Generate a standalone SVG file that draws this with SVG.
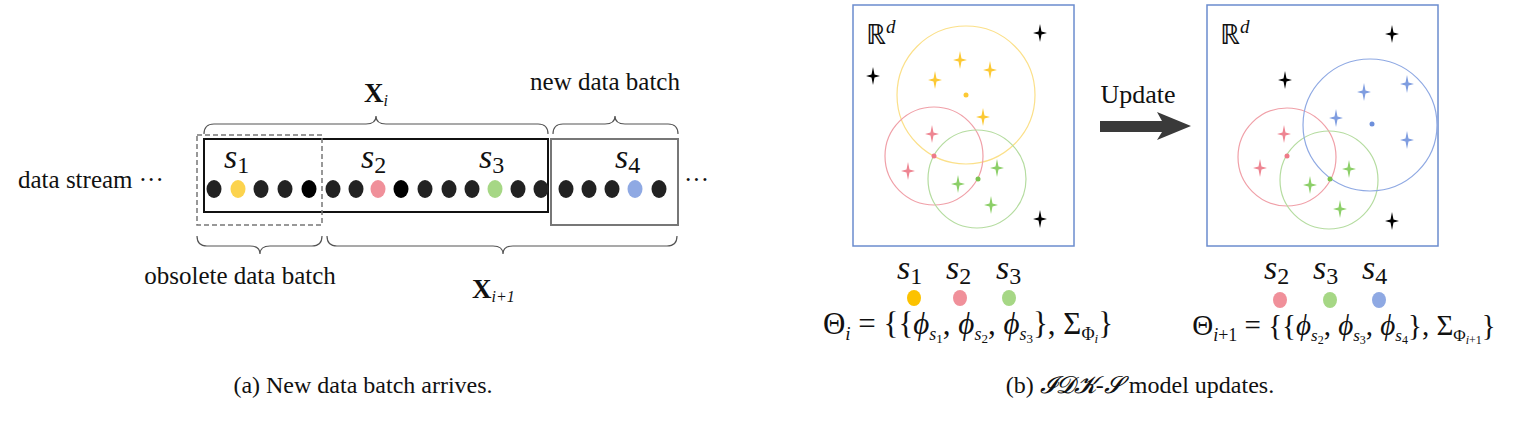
<svg xmlns="http://www.w3.org/2000/svg" width="1532" height="425" viewBox="0 0 1532 425">
<style>
.t{font-family:"Liberation Serif",serif;fill:#111}
.m{font-family:"Liberation Serif",serif;font-style:italic;fill:#111}
.b{fill:#222}
.br{fill:none;stroke:#555;stroke-width:1.2}
</style>
<defs>
<path id="st" d="M0,-9 L1.5,-1.5 L7,0 L1.5,1.5 L0,9 L-1.5,1.5 L-7,0 L-1.5,-1.5Z"/>
</defs>
<rect width="1532" height="425" fill="#fff"/>
<g id="stream">
<rect x="204" y="139" width="344" height="73" fill="none" stroke="#111" stroke-width="2"/>
<rect x="197" y="135" width="125" height="90" fill="none" stroke="#777" stroke-width="1.5" stroke-dasharray="5,3"/>
<rect x="551" y="139" width="127" height="86" fill="none" stroke="#777" stroke-width="2"/>
<g class="b">
<ellipse cx="214" cy="189" rx="7.5" ry="9"/><ellipse cx="261" cy="189" rx="7.5" ry="9"/><ellipse cx="285" cy="189" rx="7.5" ry="9"/><ellipse cx="309" cy="189" rx="7.5" ry="9" fill="#000"/><ellipse cx="333" cy="189" rx="7.5" ry="9"/><ellipse cx="356" cy="189" rx="7.5" ry="9"/><ellipse cx="401" cy="189" rx="7.5" ry="9" fill="#000"/><ellipse cx="425" cy="189" rx="7.5" ry="9"/><ellipse cx="449" cy="189" rx="7.5" ry="9"/><ellipse cx="472" cy="189" rx="7.5" ry="9"/><ellipse cx="518" cy="189" rx="7.5" ry="9"/><ellipse cx="541" cy="189" rx="7.5" ry="9"/><ellipse cx="566" cy="189" rx="7.5" ry="9"/><ellipse cx="589" cy="189" rx="7.5" ry="9"/><ellipse cx="612" cy="189" rx="7.5" ry="9"/><ellipse cx="659" cy="189" rx="7.5" ry="9"/>
</g>
<ellipse cx="238" cy="189" rx="7.5" ry="9" fill="#fcd34d"/>
<ellipse cx="378" cy="189" rx="7.5" ry="9" fill="#f0909a"/>
<ellipse cx="495" cy="189" rx="7.5" ry="9" fill="#a6d785"/>
<ellipse cx="635" cy="189" rx="7.5" ry="9" fill="#8fa9e3"/>
<text class="m" x="224" y="168" font-size="34">s<tspan font-size="24" font-style="normal" dy="5">1</tspan></text>
<text class="m" x="361" y="168" font-size="34">s<tspan font-size="24" font-style="normal" dy="5">2</tspan></text>
<text class="m" x="479" y="168" font-size="34">s<tspan font-size="24" font-style="normal" dy="5">3</tspan></text>
<text class="m" x="615" y="168" font-size="34">s<tspan font-size="24" font-style="normal" dy="5">4</tspan></text>
<text class="t" x="18" y="188" font-size="25">data stream ···</text>
<text class="t" x="684" y="188" font-size="25">···</text>
<text class="t" x="605" y="90" font-size="25" text-anchor="middle">new data batch</text>
<text class="t" x="240" y="284" font-size="25" text-anchor="middle">obsolete data batch</text>
<text class="t" x="364" y="102" font-size="27" font-weight="bold">X<tspan class="m" font-size="16" font-weight="normal" dy="4">i</tspan></text>
<text class="t" x="472" y="298" font-size="27" font-weight="bold">X<tspan class="m" font-size="16" font-weight="normal" dy="4">i+1</tspan></text>
</g>
<g id="braces">
<path class="br" d="M204,134 Q204,124 214,124 L366,124 Q376,124 376,116 Q376,124 386,124 L538,124 Q548,124 548,134"/>
<path class="br" d="M553,134 Q553,124 563,124 L605,124 Q615,124 615,116 Q615,124 625,124 L668,124 Q678,124 678,134"/>
<path class="br" d="M197,236 Q197,246 207,246 L250,246 Q260,246 260,254 Q260,246 270,246 L312,246 Q322,246 322,236"/>
<path class="br" d="M327,236 Q327,246 337,246 L493,246 Q503,246 503,254 Q503,246 513,246 L667,246 Q677,246 677,236"/>
</g>
<g id="panel1">
<rect x="853" y="5" width="221" height="241" fill="none" stroke="#6b8cce" stroke-width="1.5"/>
<text class="t" x="866" y="44" font-size="28">ℝ<tspan class="m" font-size="19" dy="-11">d</tspan></text>
<circle cx="966" cy="95" r="69" fill="none" stroke="#fbe08a" stroke-width="1.2"/>
<circle cx="934" cy="156" r="49" fill="none" stroke="#f0a0a8" stroke-width="1.2"/>
<circle cx="977" cy="179" r="49" fill="none" stroke="#b5dca0" stroke-width="1.2"/>
<circle cx="966" cy="95" r="2.5" fill="#fcc934"/>
<circle cx="934" cy="156" r="2.5" fill="#ee7b88"/>
<circle cx="978" cy="179" r="2.5" fill="#7cc24f"/>
<g fill="#fcc934"><use href="#st" x="960" y="60"/><use href="#st" x="990" y="70"/><use href="#st" x="935" y="80"/><use href="#st" x="983" y="117"/></g>
<g fill="#ee8592"><use href="#st" x="932" y="134"/><use href="#st" x="908" y="171"/></g>
<g fill="#8ccf68"><use href="#st" x="997" y="168"/><use href="#st" x="958" y="184"/><use href="#st" x="991" y="205"/></g>
<g fill="#000"><use href="#st" x="1040" y="33"/><use href="#st" x="873" y="76"/><use href="#st" x="1040" y="219"/></g>
</g>
<g id="panel2">
<rect x="1207" y="5" width="231" height="241" fill="none" stroke="#6b8cce" stroke-width="1.5"/>
<text class="t" x="1220" y="44" font-size="28">ℝ<tspan class="m" font-size="19" dy="-11">d</tspan></text>
<circle cx="1287" cy="157" r="49" fill="none" stroke="#f0a0a8" stroke-width="1.2"/>
<circle cx="1329" cy="180" r="49" fill="none" stroke="#b5dca0" stroke-width="1.2"/>
<ellipse cx="1370" cy="125" rx="67" ry="66" fill="none" stroke="#8fa9e3" stroke-width="1.2"/>
<circle cx="1287" cy="156" r="2.5" fill="#ee7b88"/>
<circle cx="1330" cy="179" r="2.5" fill="#7cc24f"/>
<circle cx="1372" cy="124" r="2.5" fill="#6d8fdb"/>
<g fill="#ee8592"><use href="#st" x="1284" y="134"/><use href="#st" x="1260" y="168"/></g>
<g fill="#8ccf68"><use href="#st" x="1349" y="169"/><use href="#st" x="1310" y="185"/><use href="#st" x="1340" y="209"/></g>
<g fill="#7f9de0"><use href="#st" x="1364" y="92"/><use href="#st" x="1407" y="84"/><use href="#st" x="1336" y="118"/><use href="#st" x="1407" y="140"/></g>
<g fill="#000"><use href="#st" x="1392" y="34"/><use href="#st" x="1285" y="80"/><use href="#st" x="1392" y="221"/></g>
</g>
<g id="connectors">
<path d="M1100,121 L1162,121 L1157,112 L1191,126 L1157,140 L1162,132 L1100,132Z" fill="#3a3a3a"/>
<text class="t" x="1138" y="103" font-size="26" text-anchor="middle">Update</text>
</g>
<g id="legend1">
<text class="m" x="897" y="279" font-size="34">s<tspan font-size="24" font-style="normal" dy="5">1</tspan></text>
<text class="m" x="946" y="279" font-size="34">s<tspan font-size="24" font-style="normal" dy="5">2</tspan></text>
<text class="m" x="996" y="279" font-size="34">s<tspan font-size="24" font-style="normal" dy="5">3</tspan></text>
<ellipse cx="914" cy="298" rx="7" ry="8" fill="#fcc200"/>
<ellipse cx="960" cy="298" rx="7" ry="8" fill="#f0909a"/>
<ellipse cx="1009" cy="298" rx="7" ry="8" fill="#a6d785"/>
<text class="t" x="968" y="334" font-size="31" text-anchor="middle">Θ<tspan class="m" font-size="19" dy="6">i</tspan><tspan dy="-6"> = {{</tspan><tspan class="m">ϕ</tspan><tspan class="m" font-size="18" dy="6">s</tspan><tspan font-size="13" dy="3">1</tspan><tspan dy="-9">, </tspan><tspan class="m">ϕ</tspan><tspan class="m" font-size="18" dy="6">s</tspan><tspan font-size="13" dy="3">2</tspan><tspan dy="-9">, </tspan><tspan class="m">ϕ</tspan><tspan class="m" font-size="18" dy="6">s</tspan><tspan font-size="13" dy="3">3</tspan><tspan dy="-9">}, Σ</tspan><tspan font-size="18" dy="6">Φ</tspan><tspan class="m" font-size="13" dy="3">i</tspan><tspan dy="-9">}</tspan></text>
</g>
<g id="legend2">
<text class="m" x="1264" y="279" font-size="34">s<tspan font-size="24" font-style="normal" dy="5">2</tspan></text>
<text class="m" x="1313" y="279" font-size="34">s<tspan font-size="24" font-style="normal" dy="5">3</tspan></text>
<text class="m" x="1362" y="279" font-size="34">s<tspan font-size="24" font-style="normal" dy="5">4</tspan></text>
<ellipse cx="1280" cy="300" rx="7" ry="8" fill="#f0909a"/>
<ellipse cx="1330" cy="300" rx="7" ry="8" fill="#a6d785"/>
<ellipse cx="1379" cy="300" rx="7" ry="8" fill="#8fa9e3"/>
<text class="t" x="1344" y="335" font-size="29" text-anchor="middle">Θ<tspan font-size="18" dy="6"><tspan class="m">i</tspan>+1</tspan><tspan dy="-6"> = {{</tspan><tspan class="m">ϕ</tspan><tspan class="m" font-size="17" dy="6">s</tspan><tspan font-size="12" dy="3">2</tspan><tspan dy="-9">, </tspan><tspan class="m">ϕ</tspan><tspan class="m" font-size="17" dy="6">s</tspan><tspan font-size="12" dy="3">3</tspan><tspan dy="-9">, </tspan><tspan class="m">ϕ</tspan><tspan class="m" font-size="17" dy="6">s</tspan><tspan font-size="12" dy="3">4</tspan><tspan dy="-9">}, Σ</tspan><tspan font-size="17" dy="6">Φ</tspan><tspan font-size="12" dy="3"><tspan class="m">i</tspan>+1</tspan><tspan dy="-9">}</tspan></text>
</g>
<g id="captions">
<text class="t" x="363" y="393" font-size="24" text-anchor="middle">(a) New data batch arrives.</text>
<text class="t" x="1140" y="393" font-size="24" text-anchor="middle">(b) <tspan font-style="italic">𝓘𝓓𝓚</tspan>-<tspan font-style="italic">𝓢</tspan> model updates.</text>
</g>
</svg>
